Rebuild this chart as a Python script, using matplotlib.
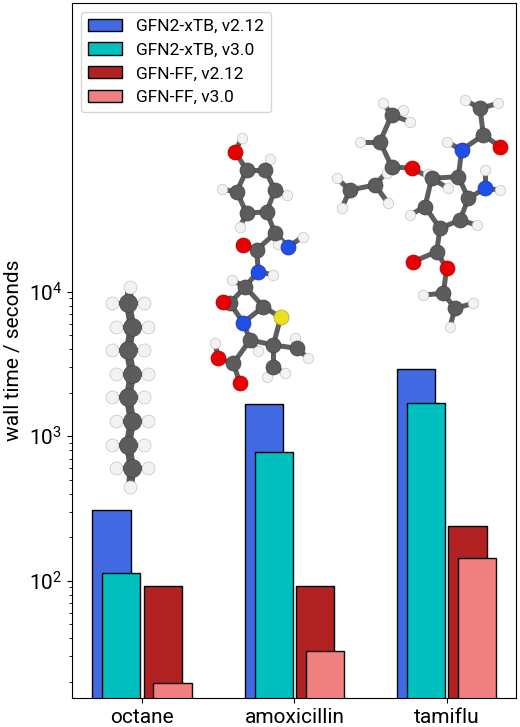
import matplotlib
matplotlib.use("Agg")
import matplotlib.pyplot as plt
from matplotlib.ticker import FixedLocator, NullFormatter
import numpy as np

plt.rcParams['font.family'] = ['Roboto', 'DejaVu Sans']

molecules = ["octane", "amoxicillin", "tamiflu"]
series = ["GFN2-xTB, v2.12", "GFN2-xTB, v3.0", "GFN-FF, v2.12", "GFN-FF, v3.0"]
xtb_v212 = [307, 1672, 2897]
xtb_v30 = [113, 774, 1710]
ff_v212 = [92.4, 92.4, 239]
ff_v30 = [19.6, 32.7, 143]
values = [xtb_v212, xtb_v30, ff_v212, ff_v30]
colors = ["royalblue", "c", "firebrick", "lightcoral"]
offsets = [-0.2, -0.135, 0.135, 0.2]
width = 0.25

# molecule pictures (ball and stick sketches), atoms: element, x, y, bonded-to
amox_atoms = [
    ("O", 135, 155, -1), ("H", 155, 115, 0), ("C", 170, 210, 0), ("C", 225, 210, 2),
    ("H", 240, 178, 3), ("C", 255, 270, 3), ("H", 290, 285, 5), ("C", 230, 335, 5),
    ("C", 170, 340, 7), ("H", 150, 380, 8), ("C", 140, 275, 8), ("H", 95, 268, 10),
    ("C", 255, 400, 7), ("N", 295, 440, 12), ("H", 340, 410, 13), ("H", 265, 432, 13),
    ("C", 200, 450, 12), ("O", 160, 435, 16), ("N", 205, 515, 16), ("H", 250, 525, 18),
    ("C", 165, 560, 18), ("H", 125, 540, 20), ("C", 120, 610, 20), ("O", 100, 605, 22),
    ("N", 160, 668, 22), ("C", 220, 620, 20), ("S", 272, 652, 25), ("C", 250, 735, 26),
    ("C", 180, 720, 24), ("H", 205, 752, 28), ("C", 250, 800, 27), ("H", 230, 830, 30),
    ("H", 285, 820, 30), ("C", 320, 745, 27), ("H", 355, 775, 33), ("H", 315, 715, 33),
    ("C", 130, 790, 28), ("O", 85, 775, 36), ("H", 75, 730, 37), ("O", 150, 850, 36),
]
amox_rings = [(10, 2), (25, 24), (28, 27)]

tami_atoms = [
    ("C", 605, 45, -1), ("H", 580, 10, 0), ("H", 660, 65, 0), ("H", 640, 30, 0),
    ("C", 570, 125, 0), ("H", 510, 125, 4), ("C", 605, 200, 4), ("H", 590, 220, 6),
    ("O", 665, 205, 6), ("C", 555, 255, 6), ("H", 595, 310, 9), ("C", 480, 270, 9),
    ("H", 440, 235, 11), ("H", 455, 325, 11), ("C", 725, 235, 8), ("C", 805, 230, 14),
    ("C", 835, 295, 15), ("C", 810, 360, 16), ("H", 860, 375, 17), ("C", 750, 385, 17),
    ("C", 705, 320, 19), ("H", 660, 345, 20), ("N", 815, 150, 15), ("H", 770, 125, 22),
    ("C", 880, 105, 22), ("O", 930, 140, 24), ("C", 870, 25, 24), ("H", 825, 0, 26),
    ("H", 925, 10, 26), ("N", 885, 265, 16), ("H", 885, 210, 29), ("H", 930, 270, 29),
    ("C", 740, 455, 19), ("O", 670, 485, 32), ("O", 770, 505, 32), ("C", 760, 580, 34),
    ("H", 700, 585, 35), ("C", 795, 625, 35), ("H", 850, 610, 37), ("H", 780, 680, 37),
    ("H", 775, 265, 14), ("H", 715, 222, 14),
]
tami_rings = [(20, 14)]

atom_col = {"C": "#5c5c5c", "H": "#f2f2f2", "O": "#e60000", "N": "#1f4fe8", "S": "#e8e020"}
atom_edge = {"C": "#444444", "H": "#c4c4c4", "O": "#b00000", "N": "#1535a8", "S": "#b0a818"}

fig = plt.figure(figsize=(5.2, 7.27), dpi=100)
ax = fig.add_axes([0.1385, 0.04, 0.8535, 0.956])

x = np.arange(len(molecules))
for vals, col, off, lab in zip(values, colors, offsets, series):
    ax.bar(x + off, vals, width, color=col, edgecolor="black", linewidth=1.0, label=lab)

ax.set_yscale("log")
ax.set_ylim(15.4, 1e6)
ax.set_xlim(-0.459, 2.452)
ax.set_xticks(x)
ax.set_xticklabels(molecules, fontsize=15)
ax.set_yticks([1e2, 1e3, 1e4])
minors = [m * 10 ** e for e in (1, 2, 3) for m in range(2, 10)]
ax.yaxis.set_minor_locator(FixedLocator(minors))
ax.yaxis.set_minor_formatter(NullFormatter())
ax.tick_params(axis="y", labelsize=15)
ax.set_ylabel("wall time / seconds", fontsize=15)
ax.legend(loc="upper left", fontsize=12.5)

# overlay in pixel coordinates for the molecule sketches
ov = fig.add_axes([0, 0, 1, 1])
ov.set_xlim(0, 520)
ov.set_ylim(727, 0)
ov.axis("off")


def draw_molecule(atoms, rings, heavy_d, h_d, bond_w):
    px = [190 + a[1] / 3 for a in atoms]
    py = [100 + a[2] / 3 for a in atoms]
    bonds = [(i, a[3]) for i, a in enumerate(atoms) if a[3] >= 0] + list(rings)
    for i, j in bonds:
        ov.plot([px[i], px[j]], [py[i], py[j]], color="#5e5e5e", lw=bond_w,
                solid_capstyle="round", zorder=1)
    for el in ["H", "C", "N", "O", "S"]:
        idx = [i for i, a in enumerate(atoms) if a[0] == el]
        if not idx:
            continue
        d = h_d if el == "H" else heavy_d
        s = (d * 0.72) ** 2
        z = 2 if el == "H" else 3
        ov.scatter([px[i] for i in idx], [py[i] for i in idx], s=s, c=atom_col[el],
                   edgecolors=atom_edge[el], linewidths=0.5, zorder=z)


draw_molecule(amox_atoms, amox_rings, 15, 10.5, 3.6)
draw_molecule(tami_atoms, tami_rings, 15, 10.5, 3.6)

# octane chain
n_c = 8
oct_x, oct_y = [], []
for i in range(n_c):
    oct_x.append(130 + (2 if i % 2 else -2))
    oct_y.append(303 + i * 23.6)
oct_hx, oct_hy = [130, 130], [287, 487]
for cx, cy in zip(oct_x, oct_y):
    oct_hx += [cx - 16, cx + 16]
    oct_hy += [cy, cy]
for cx, cy in zip(oct_x, oct_y):
    ov.plot([cx - 16, cx + 16], [cy, cy], color="#707070", lw=3, zorder=1)
ov.plot(oct_hx[:1] + oct_x + oct_hx[1:2], oct_hy[:1] + oct_y + oct_hy[1:2],
        color="#5a5a5a", lw=6, zorder=1)
ov.scatter(oct_hx, oct_hy, s=(13 * 0.72) ** 2, c=atom_col["H"], edgecolors=atom_edge["H"],
           linewidths=0.5, zorder=2)
ov.scatter(oct_x, oct_y, s=(18 * 0.72) ** 2, c=atom_col["C"], edgecolors=atom_edge["C"],
           linewidths=0.5, zorder=3)

plt.savefig("out.png", dpi=100)
